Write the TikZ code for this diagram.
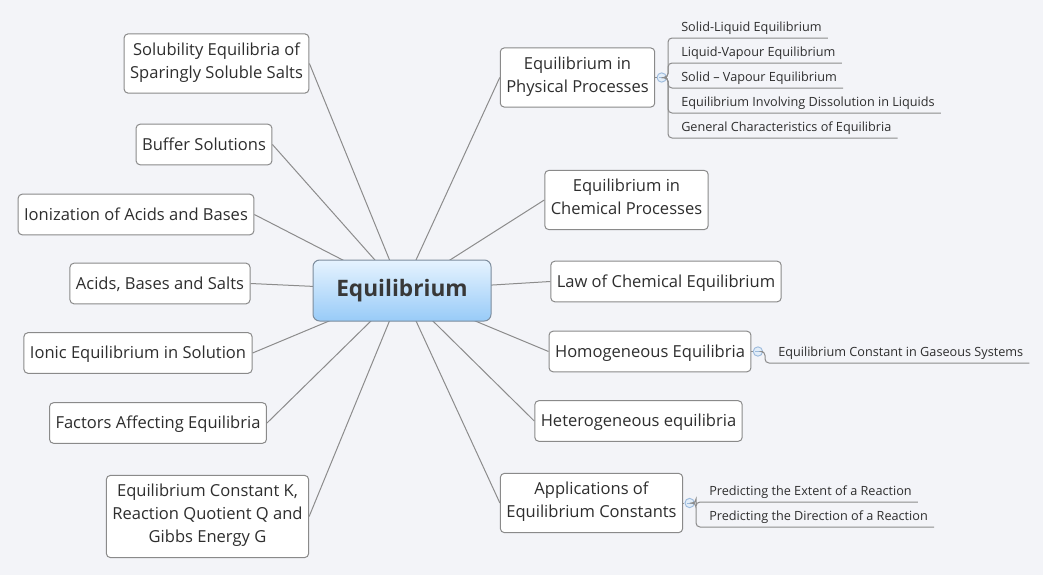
\documentclass[tikz,border=0pt]{standalone}
\usepackage{fontspec}
\setmainfont{Open Sans}
\usetikzlibrary{positioning,calc}
\definecolor{mapbg}{HTML}{F3F4F8}
\definecolor{mapline}{HTML}{8C8C8C}
\definecolor{mapborder}{HTML}{8A8A8A}
\definecolor{maptext}{HTML}{2E2E2E}
\definecolor{roottop}{HTML}{E6F3FE}
\definecolor{rootbot}{HTML}{98CBF8}
\definecolor{rootborder}{HTML}{7C8C9C}
\definecolor{foldblue}{HTML}{9DBBDD}
\definecolor{foldfill}{HTML}{E2EDF8}
\newcommand\topicstrut{\rule[-4.5pt]{0pt}{17.25pt}}
\tikzset{
    topicbox/.style={draw=mapborder, fill=white, rounded corners=3pt, align=center,
        font=\fontsize{12.4}{17.25}\selectfont, text=maptext, line width=0.75pt,
        inner xsep=4.5pt, inner ysep=6.6pt,
        execute at begin node=\topicstrut, execute at end node=\topicstrut},
    rootbox/.style={draw=rootborder, top color=roottop, bottom color=rootbot,
        rounded corners=5pt, line width=0.75pt, text=maptext!95,
        font=\fontsize{17}{20}\selectfont\bfseries,
        minimum width=133.5pt, minimum height=45.75pt},
    subtopic/.style={anchor=south west, font=\fontsize{9.5}{11}\selectfont,
        text=maptext, inner xsep=0pt, inner ysep=4.875pt, text depth=0pt},
    branchline/.style={draw=mapline, line width=0.75pt},
    subline/.style={draw=mapline, line width=0.75pt, rounded corners=3pt},
    foldmark/.style={circle, draw=foldblue, fill=foldfill, inner sep=0pt,
        minimum size=7pt, line width=0.7pt,
        path picture={\draw[foldblue, line width=0.7pt]
            ([xshift=-2pt]path picture bounding box.center) --
            ([xshift=2pt]path picture bounding box.center);}}
}

\begin{document}
\begin{tikzpicture}[x=0.75pt, y=-0.75pt]
\fill[mapbg] (0,0) rectangle (1043,575);
\useasboundingbox (0,0) rectangle (1043,575);
\coordinate (root) at (402,290.5);

% left side
\node[topicbox] (solub) at (216.5,63.5) {Solubility Equilibria of\\Sparingly Soluble Salts};
\node[topicbox] (buffer) at (204,144.5) {Buffer Solutions};
\node[topicbox] (ioniz) at (136,214.5) {Ionization of Acids and Bases};
\node[topicbox] (acids) at (160,283.5) {Acids, Bases and Salts};
\node[topicbox] (ionic) at (138,353) {Ionic Equilibrium in Solution};
\node[topicbox] (factors) at (158,423) {Factors Affecting Equilibria};
\node[topicbox] (kqg) at (207.5,516.5) {Equilibrium Constant K,\\Reaction Quotient Q and\\Gibbs Energy G};

% right side
\node[topicbox] (phys) at (577.5,77.5) {Equilibrium in\\Physical Processes};
\node[topicbox] (chem) at (626.5,200) {Equilibrium in\\Chemical Processes};
\node[topicbox] (law) at (666,281.5) {Law of Chemical Equilibrium};
\node[topicbox] (homo) at (650,351.5) {Homogeneous Equilibria};
\node[topicbox] (hetero) at (638.5,421) {Heterogeneous equilibria};
\node[topicbox] (appl) at (591.5,503) {Applications of\\Equilibrium Constants};

\foreach \t in {solub,buffer,ioniz,acids,ionic,factors}
    \draw[branchline] (root) -- (\t.east);
\draw[branchline] (root) -- (kqg.east);
\foreach \t in {phys,chem,law,homo,hetero,appl}
    \draw[branchline] (root) -- (\t.west);

% sub-topics
\node[subtopic] (solliq) at (681,38) {Solid-Liquid Equilibrium};
\node[subtopic] (liqvap) at (681,63) {Liquid-Vapour Equilibrium};
\node[subtopic] (solvap) at (681,88) {Solid -- Vapour Equilibrium};
\node[subtopic] (dissol) at (681,113) {Equilibrium Involving Dissolution in Liquids};
\node[subtopic] (genchar) at (681,138) {General Characteristics of Equilibria};
\node[subtopic] (gaseous) at (778,363) {Equilibrium Constant in Gaseous Systems};
\node[subtopic] (extent) at (709,502) {Predicting the Extent of a Reaction};
\node[subtopic] (direct) at (709,527) {Predicting the Direction of a Reaction};

\node[foldmark, right=1pt of phys] (physfold) {};
\node[foldmark, right=1pt of homo] (homofold) {};
\node[foldmark, right=1pt of appl] (applfold) {};
\draw[branchline] (phys.east) -- (physfold);
\draw[branchline] (homo.east) -- (homofold);
\draw[branchline] (appl.east) -- (applfold);

\foreach \s in {solliq,liqvap,solvap,dissol,genchar}
    \draw[subline] (physfold.east) -| ([xshift=-9.75pt]\s.south west) -- ([xshift=4.5pt]\s.south east);
\draw[subline] (homofold.east) -| ([xshift=-9.75pt]gaseous.south west) -- ([xshift=4.5pt]gaseous.south east);
\foreach \s in {extent,direct}
    \draw[subline] (applfold.east) -| ([xshift=-9.75pt]\s.south west) -- ([xshift=4.5pt]\s.south east);

\node[rootbox] (eq) at (root) {Equilibrium};
\end{tikzpicture}
\end{document}
